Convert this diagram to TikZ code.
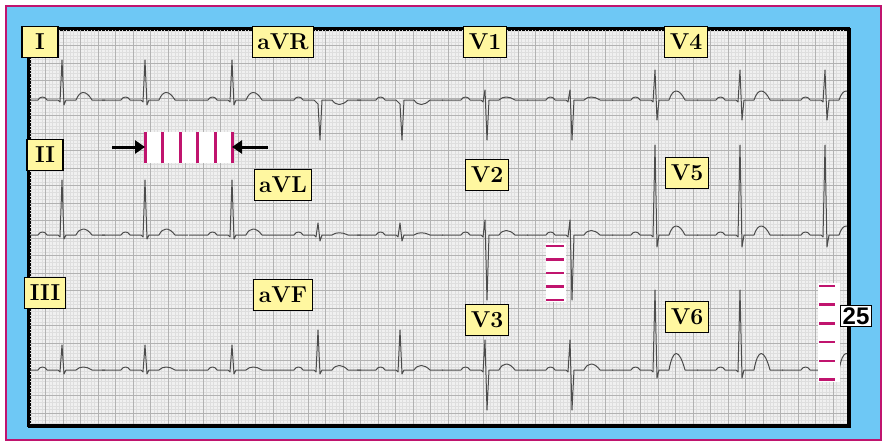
\documentclass[tikz,border=0pt]{standalone}
\usepackage{fontspec}
\newfontfamily\sansb{Liberation Sans}
\usetikzlibrary{arrows.meta}
\definecolor{skyb}{HTML}{6EC8F5}
\definecolor{mag}{HTML}{C0146E}
\definecolor{labely}{HTML}{FFF7A0}
\definecolor{paper}{HTML}{F0F0F0}
\tikzset{
  lbl/.style={draw=black,line width=1.2pt,fill=labely,font=\bfseries\fontsize{23}{23}\selectfont,inner sep=5pt,minimum height=31pt,minimum width=36pt},
  ecg/.style={line width=1pt,draw=black!70,line join=round},
  calib/.style={draw=mag,line width=2.5pt}
}
\newcommand\ecgbeat[5]{\begin{scope}[shift={(#1,#2)}]
\draw[ecg] (-43,0) -- (-24,0) .. controls (-22,-4) and (-17,-4) .. (-15,0) -- (-4,0) -- (-2,2) -- (0,{-(#3)}) -- (2,#4) -- (4,0) -- (14,0) .. controls (18,{-(#5)}) and (24,{-(#5)}) .. (30,0) -- (43,0);
\end{scope}}
\begin{document}
\begin{tikzpicture}[x=1pt,y=-1pt]
\useasboundingbox (0,0) rectangle (889,447);
\fill[white] (0,0) rectangle (889,447);
\draw[mag,line width=2.5pt,fill=skyb] (6,6) rectangle (881,440);
\node[draw=black,line width=3pt,fill=paper,minimum width=820pt,minimum height=397pt,inner sep=0pt,anchor=north west] (paperbox) at (28,28) {};
\begin{scope}
\clip (28,28) rectangle (848,425);
\foreach \i in {0,...,235} {\draw[black!13,line width=0.3pt] ({28+3.5*\i},28) -- ({28+3.5*\i},425);}
\foreach \i in {0,...,114} {\draw[black!13,line width=0.3pt] (28,{28+3.5*\i}) -- (848,{28+3.5*\i});}
\foreach \i in {0,...,47} {\draw[black!30,line width=0.6pt] ({28+17.5*\i},28) -- ({28+17.5*\i},425);}
\foreach \i in {0,...,23} {\draw[black!30,line width=0.6pt] (28,{28+17.5*\i}) -- (848,{28+17.5*\i});}
% row 1
\foreach \x/\r/\s/\t in {62/40/5/10,145/40/5/10,232/40/5/10,318/-4/40/-6,400/-4/40/-6,485/10/40/4,570/10/40/4,655/30/20/12,740/30/20/12,825/30/20/12}
  {\ecgbeat{\x}{100}{\r}{\s}{\t}{}}
% row 2
\foreach \x/\r/\s/\t in {62/55/4/8,145/55/4/8,232/55/4/8,318/12/6/3,400/12/6/3,485/15/65/6,570/15/65/6,655/90/12/12,740/90/12/12,825/90/12/12}
  {\ecgbeat{\x}{235}{\r}{\s}{\t}{}}
% row 3
\foreach \x/\r/\s/\t in {62/25/4/4,145/25/4/4,232/25/4/4,318/40/4/6,400/40/4/6,485/30/40/8,570/30/40/8,655/80/8/22,740/80/8/22,825/80/8/22}
  {\ecgbeat{\x}{370}{\r}{\s}{\t}{}}
\end{scope}
\draw[black,line width=3pt] (28,28) rectangle (848,425);
% labels
\node[lbl] (lI) at (40,42) {I};
\node[lbl] (laVR) at (283,42) {aVR};
\node[lbl] (lV1) at (485,42) {V1};
\node[lbl] (lV4) at (686,42) {V4};
\node[lbl] (lII) at (45,155) {II};
\node[lbl] (laVL) at (283,185) {aVL};
\node[lbl] (lV2) at (487,175) {V2};
\node[lbl] (lV5) at (687,173) {V5};
\node[lbl] (lIII) at (45,293) {III};
\node[lbl] (laVF) at (283,295) {aVF};
\node[lbl] (lV3) at (487,320) {V3};
\node[lbl] (lV6) at (687,317) {V6};
% interval marker
\fill[white] (145,132) rectangle (233,163);
\foreach \i in {0,...,5} {\draw[calib,line width=3pt] ({145+17.5*\i},132) -- ({145+17.5*\i},163);}
\coordinate (ml) at (145,147); \coordinate (mr) at (232,147);
\coordinate (al) at (112,147); \coordinate (ar) at (268,147);
\draw[line width=3pt,-{Triangle[length=10pt,width=13pt]}] (al) -- (ml);
\draw[line width=3pt,-{Triangle[length=10pt,width=13pt]}] (ar) -- (mr);
% calibration V2
\fill[white] (546,243) rectangle (566,302);
\foreach \i in {0,...,4} {\draw[calib] (546,{246+13.5*\i}) -- (564,{246+13.5*\i});}
% right calibration
\fill[white] (818,283) rectangle (840,382);
\foreach \i in {0,...,5} {\draw[calib] (819,{286+18.7*\i}) -- (835,{286+18.7*\i});}
\node[draw=black,line width=1pt,fill=white,font=\sansb\bfseries\fontsize{24}{24}\selectfont,inner sep=2pt] (n25) at (856,316) {25};
\end{tikzpicture}
\end{document}
